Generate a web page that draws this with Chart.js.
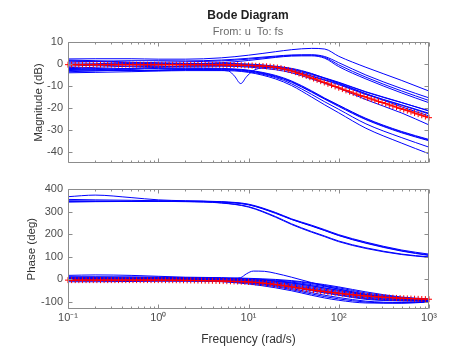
<!DOCTYPE html>
<html><head><meta charset="utf-8">
<script src="https://cdn.jsdelivr.net/npm/chart.js@4.4.1/dist/chart.umd.min.js"></script>
<style>
html,body{margin:0;padding:0;background:#fff;width:474px;height:355px;overflow:hidden}
canvas{position:absolute;left:0}
#mag{top:0}
#pha{top:175px}
</style></head><body>
<canvas id="mag" width="474" height="175"></canvas>
<canvas id="pha" width="474" height="180"></canvas>
<script>
// ---------- data ----------
const freq    = [0.1, 0.2, 0.5, 1, 2, 5, 10, 20, 30, 50, 70, 100, 200, 500, 1000];
const dipFreq = [0.1, 0.2, 0.5, 1, 2, 4, 6, 7, 8.2, 9.5, 11.3, 15, 20, 30, 50, 70, 100, 200, 500, 1000];

// magnitude (dB) of the sampled systems
const magA1 = [2.3, 2.4, 2.4, 2.2, 2.2, 2.8, 4.0, 5.6, 6.5, 7.1, 6.8, 3.5, -1.5, -7.5, -12.3];
const magA2 = [1.0, 1.2, 1.5, 1.5, 1.4, 1.8, 2.6, 3.6, 4.1, 4.2, 3.4, 0.6, -5.0, -11.2, -15.4];
const magA3 = [-1.0, -0.5, 0.3, 0.8, 1.0, 1.4, 2.2, 3.3, 3.9, 4.0, 3.0, -0.4, -6.0, -12.3, -16.6];
const magA4 = [1.8, 1.5, 0.8, 0.3, 0.2, 0.6, 1.6, 3.0, 3.6, 3.7, 2.6, -1.2, -6.8, -13.2, -17.6];
const magB1 = [0.5, 0.3, 0.0, -0.3, -0.2, 0.0, -0.3, -1.3, -2.5, -4.8, -6.5, -8.5, -12.8, -17.6, -21.2];
const magB2 = [-2.0, -1.5, -1.0, -0.5, 0.0, 0.3, 0.0, -1.0, -2.2, -4.5, -6.3, -8.3, -12.6, -17.5, -21.4];
const magB3 = [1.5, 1.2, 0.5, 0.0, -0.5, -0.6, -0.8, -1.8, -3.0, -5.4, -7.1, -9.1, -13.6, -18.6, -22.4];
const magB4 = [-3.0, -2.6, -2.0, -1.5, -1.0, -0.8, -1.0, -2.0, -3.2, -5.6, -7.4, -9.4, -13.9, -18.8, -22.7];
const magC1 = [0.0, -0.5, -1.0, -1.2, -1.0, -1.0, -1.4, -2.6, -4.0, -6.8, -8.8, -11.0, -16.2, -22.3, -27.7];
const magD1 = [-3.5, -3.2, -2.5, -2.0, -2.0, -2.2, -3.0, -5.5, -8.0, -12.5, -15.8, -19.0, -25.0, -31.0, -34.6];
const magD2 = [-1.5, -2.0, -2.8, -3.0, -2.6, -2.4, -3.2, -5.8, -8.3, -12.8, -16.0, -19.3, -25.3, -31.3, -34.9];
const magD3 = [-2.0, -2.2, -2.0, -1.8, -1.8, -2.0, -2.8, -5.2, -7.7, -12.2, -15.5, -18.7, -24.7, -30.7, -34.3];
const magD4 = [-2.5, -2.8, -3.0, -2.8, -2.5, -2.6, -3.5, -6.2, -9.0, -13.8, -17.2, -20.6, -27.2, -33.5, -37.8];
const magD5 = [-4.0, -3.8, -3.5, -3.2, -3.0, -3.0, -3.8, -6.8, -9.8, -15.0, -18.6, -22.2, -29.2, -36.0, -40.8];
const magDip = [-2.5, -2.8, -3.0, -2.8, -2.6, -2.8, -3.2, -5.5, -8.9, -5.8, -3.0, -1.6, -1.3, -2.0, -4.3, -6.5, -8.8, -13.5, -19.5, -23.6];

// phase (deg) of the sampled systems
const phU1 = [366, 373, 362, 352, 348, 344, 333, 296, 268, 240, 220, 198, 165, 130, 112];
const phU2 = [354, 352, 350, 348, 346, 343, 331, 294, 266, 237, 217, 195, 162, 127, 108];
const phU3 = [348, 347, 346, 346, 346, 342, 330, 292, 265, 236, 216, 194, 160, 125, 106];
const phU4 = [342, 344, 345, 346, 345, 339, 322, 278, 246, 212, 192, 170, 140, 112, 100];
const phU5 = [345, 345, 345, 345, 344, 338, 320, 275, 243, 209, 189, 167, 137, 110, 98];
const phL1 = [18, 20, 18, 14, 10, 8, 5, 0, -5, -15, -23, -33, -55, -78, -86];
const phL2 = [12, 12, 11, 10, 8, 6, 3, -3, -8, -18, -27, -37, -60, -80, -88];
const phL3 = [8, 8, 7, 7, 6, 4, 0, -6, -12, -23, -32, -42, -65, -83, -90];
const phL4 = [5, 6, 6, 5, 4, 2, -2, -9, -16, -28, -38, -48, -70, -85, -91];
const phL5 = [3, 3, 3, 2, 1, -1, -5, -13, -20, -33, -43, -53, -74, -88, -92];
const phL6 = [0, 0, 0, 0, -1, -3, -8, -16, -24, -38, -48, -58, -78, -90, -93];
const phL7 = [-2, -2, -2, -2, -3, -5, -10, -20, -28, -42, -52, -62, -82, -92, -94];
const phL8 = [-5, -5, -5, -5, -5, -7, -12, -23, -32, -47, -57, -67, -85, -94, -95];
const phL9 = [6, 6, 5, 4, 2, -3, -12, -28, -40, -58, -70, -80, -96, -102, -98];
const phL10 = [2, 2, 2, 1, -1, -6, -16, -32, -45, -64, -76, -86, -100, -104, -99];
const phL11 = [-3, -3, -3, -4, -6, -10, -20, -37, -50, -70, -82, -92, -104, -105, -100];
const phL12 = [10, 10, 10, 9, 8, 5, 0, -8, -15, -28, -38, -48, -68, -84, -90];
const phL13 = [-10, -10, -9, -8, -8, -9, -14, -25, -35, -50, -60, -70, -88, -95, -96];
const phDip = [4, 4, 3, 3, 2, 2, 4, 5, 8, 25, 37, 36, 27, 10, -14, -29, -43, -66, -84, -90];

// nominal model (red, '+' markers)
const redMag = [
 -0.3,-0.3,-0.3,-0.3,-0.3,-0.3,-0.3,-0.3,-0.3,-0.3,
 -0.3,-0.3,-0.3,-0.3,-0.3,-0.3,-0.3,-0.3,-0.3,-0.3,
 -0.3,-0.3,-0.3,-0.3,-0.3,-0.3,-0.3,-0.3,-0.3,-0.3,
 -0.3,-0.3,-0.3,-0.3,-0.3,-0.3,-0.3,-0.3,-0.3,-0.3,-0.3,
 -0.3,-0.35,-0.35,-0.4,-0.4,-0.45,-0.5,-0.55,-0.6,-0.65,
 -0.7,-0.8,-0.85,-0.95,-1.05,-1.2,-1.4,-1.6,-1.9,-2.3,
 -2.7,-3.2,-3.7,-4.3,-4.9,-5.4,-6.0,-6.6,-7.2,-7.8,
 -8.4,-9.0,-9.6,-10.2,-10.8,-11.4,-12.0,-12.6,-13.2,-13.7,
 -14.3,-14.8,-15.4,-15.9,-16.4,-17.0,-17.5,-18.0,-18.6,-19.1,
 -19.6,-20.2,-20.7,-21.2,-21.7,-22.3,-22.8,-23.3,-23.9,-24.4];
const redPhase = [
 -3,-3,-3,-3,-3,-3,-3,-3,-3,-3,-3,-3,-3,-3,-3,-3,-3,-3,-3,-3,-3,-3,-3,-3,-3,-3,
 -3.1,-3.2,-3.3,-3.4,-3.5,-3.7,-3.9,-4.1,-4.3,-4.5,
 -4.8,-5.1,-5.4,-5.7,-6.0,-6.4,-6.8,-7.2,-7.7,-8.2,
 -8.7,-9.2,-9.8,-10.4,-11.0,-12.0,-13.2,-14.5,-16.0,-17.6,
 -19.4,-21.4,-23.5,-25.7,-28.0,-30.5,-33.0,-35.5,-38.0,-40.4,
 -42.7,-45.0,-47.2,-49.4,-51.5,-53.5,-55.5,-57.4,-59.2,-61.0,
 -62.8,-64.5,-66.2,-67.8,-69.4,-70.9,-72.3,-73.6,-74.8,-76.0,
 -77.1,-78.1,-79.1,-80.0,-80.9,-81.7,-82.5,-83.2,-83.9,-84.6,
 -85.2,-85.8,-86.4,-87.0,-87.5];

const magTicks = [10, 0, -10, -20, -30, -40];
const phaseTicks = [400, 300, 200, 100, 0, -100];
const freqTicks = [0.1, 1, 10, 100, 1000];
const freqTickLabels = ['10\u207B\u00B9', '10\u2070', '10\u00B9', '10\u00B2', '10\u00B3'];

// sample grid of the nominal response (logspace from 1e-1 to 1e3)
const redFreq = redMag.map((_, i) => Math.pow(10, -1 + 4 * i / (redMag.length - 1)));

// ---------- helpers ----------
const FONT = '"Liberation Sans", Arial, Helvetica, sans-serif';
const BOX = '#8c8c8c', TICKTXT = '#4d4d4d', LBL = '#333333';
const BLUE = '#0000ff', RED = '#ff0000';
const pts = (xs, ys) => xs.map((x, i) => ({x, y: ys[i]}));
const blue = (xs, ys) => ({data: pts(xs, ys), borderColor: BLUE, borderWidth: 1, pointRadius: 0,
  fill: false, cubicInterpolationMode: 'monotone', yAxisID: 'y'});
const red = (ys) => ({data: pts(redFreq, ys), borderColor: RED, borderWidth: 1, pointStyle: 'cross',
  pointRadius: 3, pointBorderColor: RED, pointBorderWidth: 1, pointBackgroundColor: RED,
  fill: false, tension: 0, clip: false, yAxisID: 'y'});

const boxTicks = {
  id: 'boxTicks',
  afterDatasetsDraw(chart) {
    const {ctx, chartArea: a, scales: {x, y}} = chart;
    const L = Math.round(a.left) + 0.5, R = Math.round(a.right) - 0.5;
    const T = Math.round(a.top) + 0.5, B = Math.round(a.bottom) - 0.5;
    ctx.save();
    ctx.strokeStyle = BOX; ctx.lineWidth = 1;
    ctx.beginPath();
    ctx.rect(L, T, R - L, B - T);
    freqTicks.forEach((d, k) => {
      const px = Math.round(x.getPixelForValue(d)) + 0.5;
      ctx.moveTo(px, B); ctx.lineTo(px, B - 4);
      ctx.moveTo(px, T); ctx.lineTo(px, T + 4);
      if (k < freqTicks.length - 1) {
        for (let m = 2; m <= 9; m++) {
          const p = Math.round(x.getPixelForValue(d * m)) + 0.5;
          ctx.moveTo(p, B); ctx.lineTo(p, B - 2);
          ctx.moveTo(p, T); ctx.lineTo(p, T + 2);
        }
      }
    });
    y.ticks.forEach(t => {
      const py = Math.round(y.getPixelForValue(t.value)) + 0.5;
      ctx.moveTo(L, py); ctx.lineTo(L + 4, py);
      ctx.moveTo(R, py); ctx.lineTo(R - 4, py);
    });
    ctx.stroke();
    ctx.restore();
  }
};

function yScale(min, max, tickVals, title, titlePad) {
  return {
    min, max,
    afterBuildTicks: s => { s.ticks = tickVals.map(v => ({value: v})); },
    afterFit: s => { s.width = 46; },
    grid: {display: false, drawTicks: false},
    border: {display: false},
    ticks: {color: TICKTXT, font: {family: FONT, size: 11}, padding: 5},
    title: {display: true, text: title, color: LBL, font: {family: FONT, size: 11.5},
      padding: {top: titlePad, bottom: 0}}
  };
}
// empty right-hand spacer axis so the page is balanced like the original figure
function rightSpacer(min, max) {
  return {
    position: 'right', min, max, display: true,
    afterFit: s => { s.width = 45; },
    grid: {display: false, drawTicks: false},
    border: {display: false},
    ticks: {display: false}
  };
}

Chart.defaults.animation = false;

new Chart(document.getElementById('mag'), {
  type: 'line',
  data: {datasets: [
    red(redMag),
    blue(freq, magA1), blue(freq, magA2), blue(freq, magA3), blue(freq, magA4),
    blue(freq, magB1), blue(freq, magB2), blue(freq, magB3), blue(freq, magB4),
    blue(freq, magC1),
    blue(freq, magD1), blue(freq, magD2), blue(freq, magD3), blue(freq, magD4), blue(freq, magD5),
    blue(dipFreq, magDip)
  ]},
  options: {
    responsive: false, devicePixelRatio: 1, animation: false,
    layout: {padding: {left: 22, right: 0, top: 0, bottom: 12}},
    plugins: {
      legend: {display: false}, tooltip: {enabled: false},
      title: {display: true, text: 'Bode Diagram', color: '#1f1f1f',
        font: {family: FONT, size: 12, weight: 'bold'}, padding: {top: 8.8, bottom: 2.5}},
      subtitle: {display: true, text: 'From: u  To: fs', color: '#6b6b6b',
        font: {family: FONT, size: 11}, padding: {top: 0, bottom: 3.1}}
    },
    scales: {
      x: {type: 'logarithmic', min: 0.1, max: 1000, display: false},
      y: yScale(-45, 10, magTicks, 'Magnitude (dB)', 10.1),
      yR: rightSpacer(-45, 10)
    }
  },
  plugins: [boxTicks]
});

new Chart(document.getElementById('pha'), {
  type: 'line',
  data: {datasets: [
    red(redPhase),
    blue(freq, phU1), blue(freq, phU2), blue(freq, phU3), blue(freq, phU4), blue(freq, phU5),
    blue(freq, phL1), blue(freq, phL2), blue(freq, phL3), blue(freq, phL4), blue(freq, phL5),
    blue(freq, phL6), blue(freq, phL7), blue(freq, phL8), blue(freq, phL9), blue(freq, phL10),
    blue(freq, phL11), blue(freq, phL12), blue(freq, phL13),
    blue(dipFreq, phDip)
  ]},
  options: {
    responsive: false, devicePixelRatio: 1, animation: false,
    layout: {padding: {left: 22, right: 0, top: 14, bottom: 0}},
    plugins: {legend: {display: false}, tooltip: {enabled: false}},
    scales: {
      x: {
        type: 'logarithmic', min: 0.1, max: 1000,
        afterBuildTicks: s => { s.ticks = freqTicks.map(v => ({value: v})); },
        afterFit: s => { s.height = 45.7; },
        grid: {display: false, drawTicks: false},
        border: {display: false},
        ticks: {color: TICKTXT, font: {family: FONT, size: 11}, padding: 2, maxRotation: 0,
          autoSkip: false, callback: (v, i) => freqTickLabels[i]},
        title: {display: true, text: 'Frequency (rad/s)', color: LBL,
          font: {family: FONT, size: 12}, padding: {top: 0, bottom: 7.8}}
      },
      y: yScale(-132, 400, phaseTicks, 'Phase (deg)', 2.8),
      yR: rightSpacer(-132, 400)
    }
  },
  plugins: [boxTicks]
});
</script>
</body></html>
